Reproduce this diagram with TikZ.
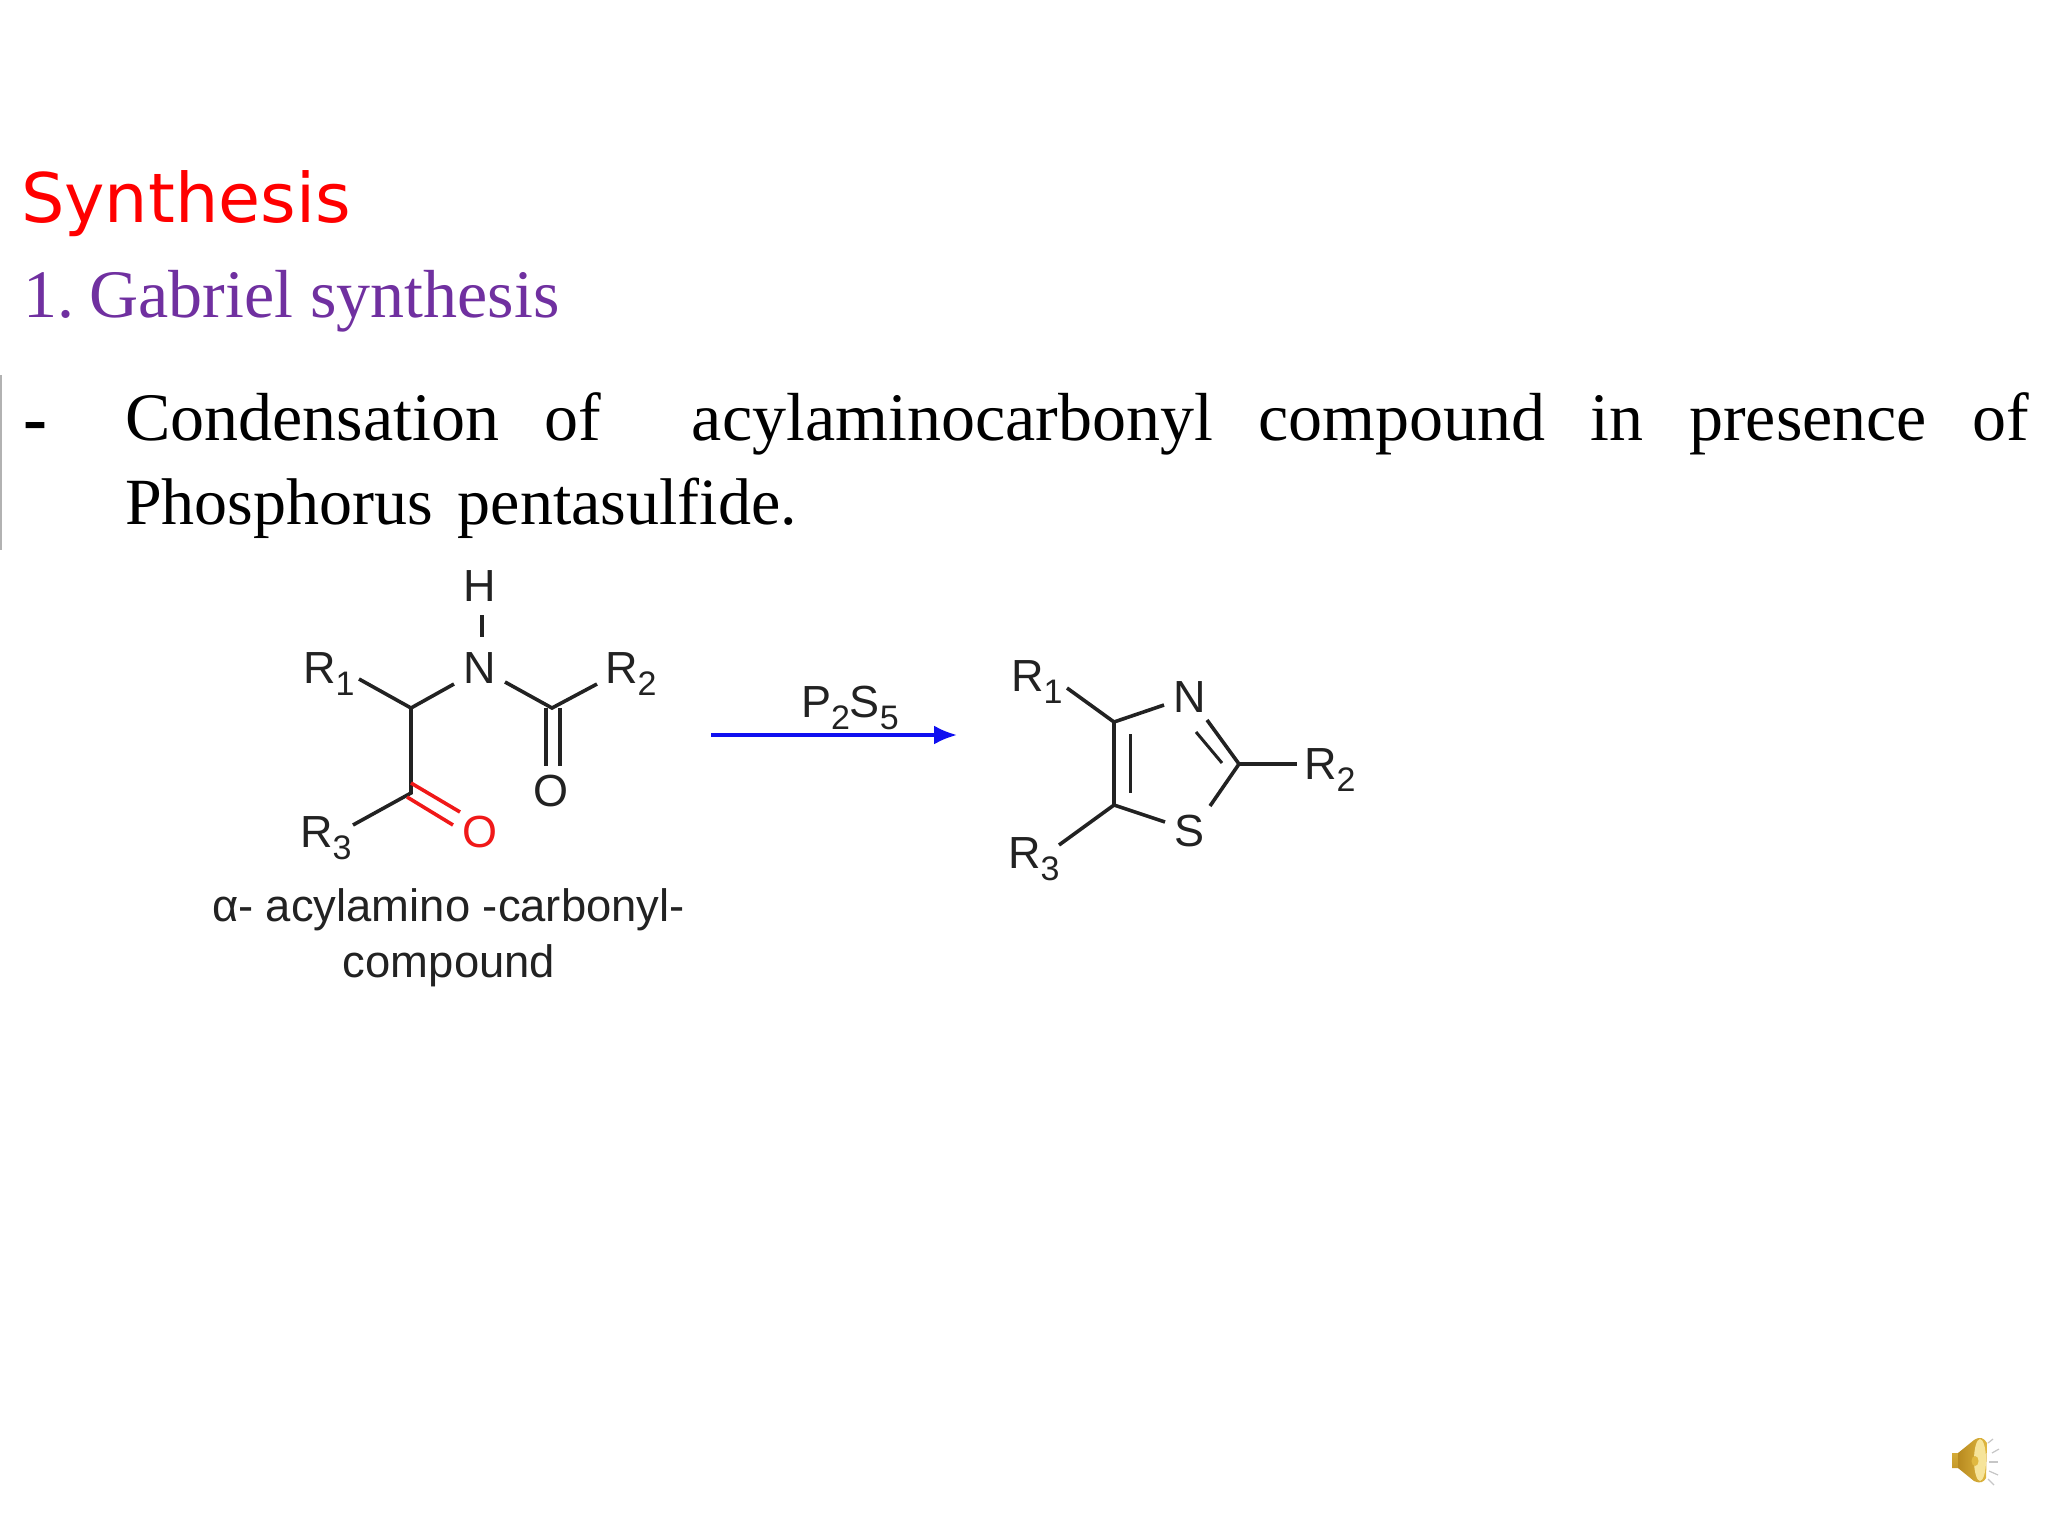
\documentclass[tikz,border=0pt]{standalone}
\usepackage{fontspec}
\setmainfont{Liberation Serif}
\newfontfamily\arialf{Liberation Sans}
\newfontfamily\verdf{DejaVu Sans}
\usetikzlibrary{arrows.meta}
\definecolor{purp}{HTML}{7030A0}
\definecolor{ink}{HTML}{222222}
\definecolor{redc}{HTML}{F01818}
\definecolor{arrowblue}{HTML}{1010F0}
\definecolor{golddark}{HTML}{B88A20}
\definecolor{goldmid}{HTML}{E0B840}
\definecolor{goldlight}{HTML}{F6E49A}
\newcommand{\sbs}[1]{\raisebox{-0.27em}{\fontsize{17}{17}\selectfont #1}}
\tikzset{
  lbl/.style={inner sep=0pt,outer sep=0pt,anchor=base west},
  chem/.style={lbl,font=\arialf\fontsize{22.5}{26}\selectfont,text=ink},
  atom/.style={inner sep=0pt,outer sep=0pt,anchor=center,font=\arialf\fontsize{22.5}{26}\selectfont,text=ink},
  bond/.style={draw=ink,line width=1.8pt},
  innerbond/.style={draw=ink,line width=1.5pt},
  redbond/.style={draw=redc,line width=1.8pt},
  body/.style={lbl,font=\fontsize{34}{40}\selectfont,text=black},
  ray/.style={draw=gray!45,line width=0.6pt}
}
\begin{document}
\begin{tikzpicture}[x=0.5pt,y=-0.5pt]
\useasboundingbox (0,0) rectangle (2048,1536);
% headings
\node[lbl,font=\verdf\fontsize{34.2}{40}\selectfont,text=red] (title) at (21,222) {Synthesis};
\node[lbl,font=\fontsize{34}{40}\selectfont,text=purp] (sub) at (24,317) {1.\hspace{0.21em}Gabriel synthesis};
% body
\coordinate (railtop) at (1,375);
\coordinate (railbot) at (1,550);
\draw[draw=gray!60,line width=1pt] (railtop) -- (railbot);
\node[body,font=\bfseries\fontsize{36}{40}\selectfont] (dash) at (23,442) {-};
\node[body] (line1) at (125,440) {\hbox to 952pt{Condensation\hfill of\hfill\hfill acylaminocarbonyl\hfill compound\hfill in\hfill presence\hfill of}};
\node[body,font=\fontsize{33}{40}\selectfont] (line2) at (125,524) {\hbox to 336pt{Phosphorus\hfill pentasulfide.}};
% reactant
\node[atom] (H) at (480,586) {H};
\node[atom] (N) at (480,668) {N};
\node[chem] (R1) at (303,683) {R\sbs{1}};
\node[chem] (R2) at (605,683) {R\sbs{2}};
\node[chem] (R3) at (300,847) {R\sbs{3}};
\node[atom] (O1) at (551,791) {O};
\node[atom,text=redc] (O2) at (480,832) {O};
\coordinate (ca) at (411,708);
\coordinate (cb) at (411,793);
\coordinate (cc) at (552,708);
\coordinate (hn1) at (482,615);
\coordinate (hn2) at (482,637);
\coordinate (r1e) at (359,679);
\coordinate (ne1) at (454,684);
\coordinate (ne2) at (505,682);
\coordinate (r2e) at (597,684);
\coordinate (d1a) at (546,708);
\coordinate (d1b) at (546,766);
\coordinate (d2a) at (560,708);
\coordinate (d2b) at (560,766);
\coordinate (r3e) at (353,825);
\coordinate (ra1) at (411,783);
\coordinate (ra2) at (460,812);
\coordinate (rb1) at (407,797);
\coordinate (rb2) at (453,825);
\draw[bond] (hn1) -- (hn2);
\draw[bond] (r1e) -- (ca) -- (ne1);
\draw[bond] (ne2) -- (cc) -- (r2e);
\draw[bond] (d1a) -- (d1b);
\draw[bond] (d2a) -- (d2b);
\draw[bond] (ca) -- (cb) -- (r3e);
\draw[redbond] (ra1) -- (ra2);
\draw[redbond] (rb1) -- (rb2);
\node[lbl,font=\arialf\fontsize{22.7}{26}\selectfont,text=ink] (cap1) at (212,921) {α- acylamino -carbonyl-};
\node[lbl,anchor=base,font=\arialf\fontsize{22.7}{26}\selectfont,text=ink] (cap2) at (449,977) {compound};
% arrow
\coordinate (as) at (711,735);
\coordinate (ae) at (957,735);
\draw[draw=arrowblue,line width=1.6pt,-{Latex[length=11.5pt,width=9.5pt]}] (as) -- (ae);
\node[chem] (reag) at (801,717) {P\sbs{2}S\sbs{5}};
% product
\node[chem] (pR1) at (1011,691) {R\sbs{1}};
\node[chem] (pR2) at (1304,779) {R\sbs{2}};
\node[chem] (pR3) at (1008,868) {R\sbs{3}};
\node[atom] (pN) at (1190,697) {N};
\node[atom] (pS) at (1189,831) {S};
\coordinate (c4) at (1114,722);
\coordinate (c5) at (1114,805);
\coordinate (c2) at (1239,764);
\coordinate (b1) at (1067,688);
\coordinate (b2) at (1164,705);
\coordinate (b3) at (1165,822);
\coordinate (b4) at (1210,806);
\coordinate (b5) at (1207,720);
\coordinate (b6) at (1297,764);
\coordinate (b7) at (1059,845);
\coordinate (i1) at (1130,734);
\coordinate (i2) at (1130,793);
\coordinate (i3) at (1196,732);
\coordinate (i4) at (1222,763);
\draw[bond] (b1) -- (c4) -- (b2);
\draw[bond] (c4) -- (c5) -- (b3);
\draw[bond] (c5) -- (b7);
\draw[innerbond] (i1) -- (i2);
\draw[bond] (b5) -- (c2) -- (b4);
\draw[innerbond] (i3) -- (i4);
\draw[bond] (c2) -- (b6);
% speaker
\shade[top color=goldmid,bottom color=golddark]
  (1952,1453) -- (1960,1453) -- (1977,1441) -- (1977,1481) -- (1960,1468) -- (1952,1468) -- cycle;
\shade[left color=golddark,right color=goldmid]
  (1958,1453) -- (1974,1440) .. controls (1980,1436) and (1984,1438) .. (1987,1443)
  -- (1986,1478)
  .. controls (1984,1482) and (1980,1484) .. (1974,1481) -- (1958,1468) -- cycle;
\fill[goldlight] (1980,1460) ellipse [x radius=6,y radius=21];
\fill[goldmid] (1975,1461) ellipse [x radius=3.5,y radius=5];
\coordinate (s1a) at (1988,1443); \coordinate (s1b) at (1993,1439);
\coordinate (s2a) at (1992,1453); \coordinate (s2b) at (1999,1449);
\coordinate (s3a) at (1989,1462); \coordinate (s3b) at (1998,1462);
\coordinate (s4a) at (1989,1471); \coordinate (s4b) at (1998,1475);
\coordinate (s5a) at (1988,1479); \coordinate (s5b) at (1994,1485);
\draw[ray] (s1a) -- (s1b);
\draw[ray] (s2a) -- (s2b);
\draw[ray] (s3a) -- (s3b);
\draw[ray] (s4a) -- (s4b);
\draw[ray] (s5a) -- (s5b);
\end{tikzpicture}
\end{document}
